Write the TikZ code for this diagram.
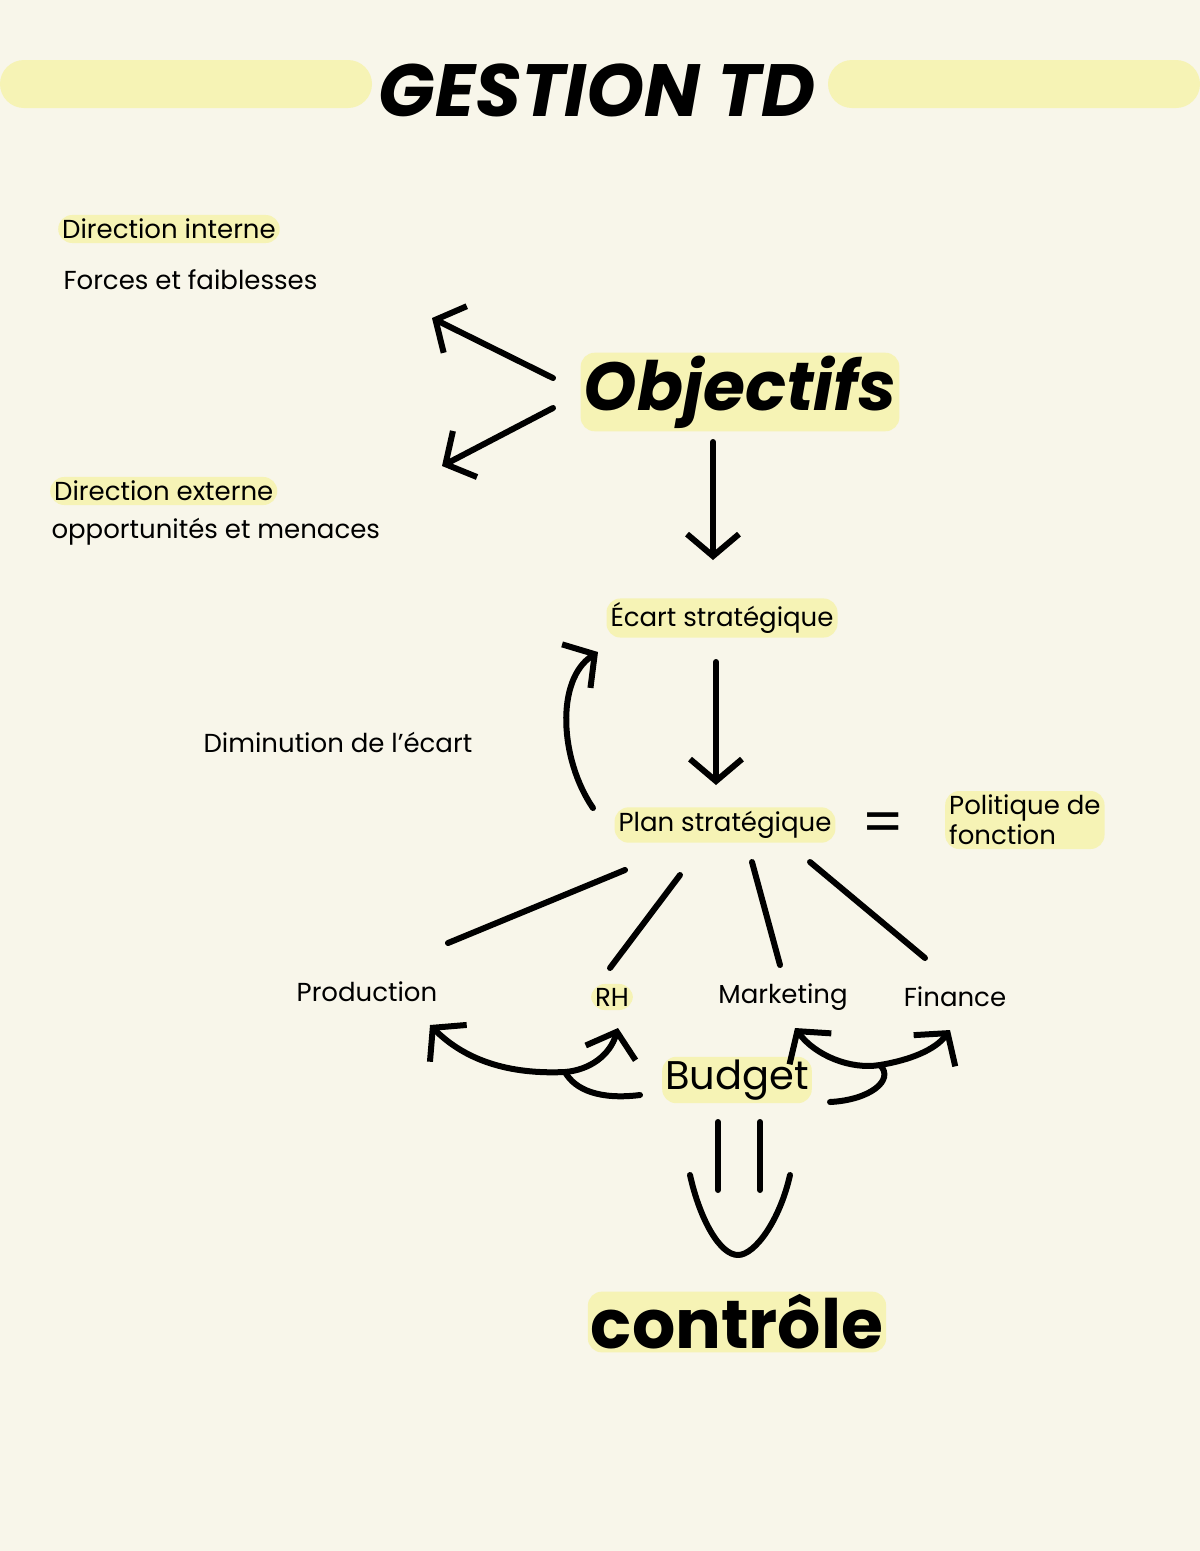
\documentclass[tikz,border=0pt]{standalone}
\usepackage{fontspec}
\setmainfont{Poppins}
\usetikzlibrary{arrows.meta}
\definecolor{bg}{HTML}{F8F6EA}
\definecolor{hl}{HTML}{F6F3B5}
\begin{document}
\begin{tikzpicture}[x=1pt,y=-1pt,
  hlt/.style={fill=hl,rounded corners=14pt,inner sep=4pt},
  txt/.style={font=\fontsize{26}{30}\selectfont},
  ln/.style={line width=6pt,line cap=round,line join=round},
  arr/.style={ln,-{Straight Barb[length=22pt,width=52pt,line width=6pt]}}]
\fill[bg] (0,0) rectangle (1200,1551);
\useasboundingbox (0,0) rectangle (1200,1551);
\fill[hl,rounded corners=24pt] (0,60) rectangle (372,108);
\fill[hl,rounded corners=24pt] (828,60) rectangle (1200,108);
\node (title) at (597,90) {\fontsize{74}{80}\selectfont\bfseries\itshape GESTION TD};
\node[txt,hlt,anchor=west] (di) at (58,229) {Direction interne};
\node[txt,anchor=west] (ff) at (60,280) {Forces et faiblesses};
\node[hlt,inner sep=3pt] (obj) at (740,392) {\fontsize{68}{74}\selectfont\bfseries\itshape Objectifs};
\coordinate (o1) at (553,378); \coordinate (o2) at (553,408);
\coordinate (t1) at (432,318); \coordinate (t2) at (442,466);
\draw[arr] (o1) -- (t1);
\draw[arr] (o2) -- (t2);
\node[txt,hlt,anchor=west] (de) at (50,491) {Direction externe};
\node[txt,anchor=west] (om) at (48,532) {opportunités et menaces};
\node[txt,hlt] (ecart) at (722,618) {Écart stratégique};
\coordinate (e1) at (713,442); \coordinate (e2) at (713,560);
\draw[arr] (e1) -- (e2);
\node[txt,hlt] (plan) at (725,825) {Plan stratégique};
\coordinate (p1) at (716,662); \coordinate (p2) at (716,785);
\draw[arr] (p1) -- (p2);
\node[txt,anchor=west] (dim) at (200,742) {Diminution de l'écart};
\draw[arr] (593,808) .. controls (560,760) and (555,680) .. (598,652);
\node (eq) at (883,828) {\fontsize{60}{60}\selectfont =};
\node[txt,hlt,anchor=west,align=left] (pol) at (945,820) {Politique de\\fonction};
\node[txt] (prod) at (367,992) {Production};
\node[txt,hlt] (rh) at (612,997) {RH};
\node[txt] (mkt) at (783,997) {Marketing};
\node[txt] (fin) at (955,997) {Finance};
\draw[ln] (625,870) -- (448,943);
\draw[ln] (680,875) -- (610,968);
\draw[ln] (752,862) -- (780,965);
\draw[ln] (810,862) -- (925,958);
\node[hlt,inner sep=3pt] (bud) at (737,1080) {\fontsize{40}{46}\selectfont Budget};
\draw[arr] (640,1095) .. controls (600,1100) and (575,1090) .. (565,1072) .. controls (500,1075) and (460,1055) .. (430,1025);
\draw[arr] (565,1072) .. controls (590,1070) and (610,1055) .. (618,1028);
\draw[arr] (830,1102) .. controls (870,1100) and (895,1080) .. (880,1065) .. controls (850,1070) and (815,1055) .. (795,1028);
\draw[arr] (880,1065) .. controls (910,1060) and (935,1050) .. (950,1030);
\draw[ln] (718,1122) -- (718,1190);
\draw[ln] (760,1122) -- (760,1190);
\draw[ln] (690,1175) .. controls (700,1220) and (720,1255) .. (738,1255) .. controls (755,1255) and (780,1220) .. (790,1175);
\node[hlt,inner sep=3pt] (ctrl) at (737,1322) {\fontsize{68}{76}\selectfont\bfseries contrôle};
\end{tikzpicture}
\end{document}
